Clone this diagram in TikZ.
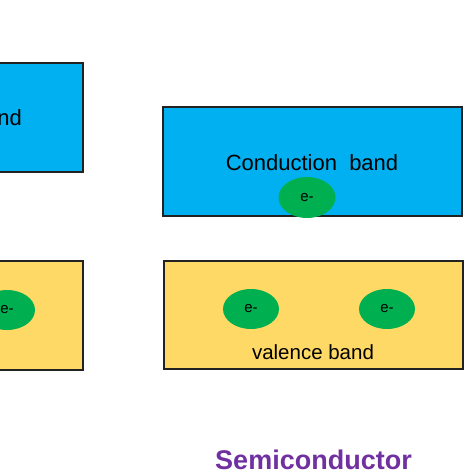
\documentclass[tikz,border=0pt]{standalone}
\usepackage{fontspec}
\setmainfont{Liberation Sans}
\usetikzlibrary{shapes.geometric}
\definecolor{cband}{HTML}{00B0F0}
\definecolor{vband}{HTML}{FFD966}
\definecolor{elec}{HTML}{00B050}
\definecolor{edgec}{HTML}{222222}
\definecolor{purp}{HTML}{7030A0}
\begin{document}
\begin{tikzpicture}[x=1pt,y=-1pt,
  bandbox/.style={draw=edgec,line width=1.3pt},
  electron/.style={ellipse,fill=elec,minimum width=56pt,minimum height=40pt,inner sep=0pt,font=\fontsize{15}{17}\selectfont},
  bandlabel/.style={font=\fontsize{22}{26}\selectfont,inner sep=0pt}]
\useasboundingbox (0,0) rectangle (474,474);
\begin{scope}
\clip (0,0) rectangle (474,474);
% left (cut off) boxes
\path[bandbox,fill=cband] (-120,63) rectangle (83,172);
\node[bandlabel,anchor=east] (lc) at (22,118) {Conduction~ band};
\path[bandbox,fill=vband] (-120,261) rectangle (83,370);
\node[electron] (le) at (7,310) {e-};
% right boxes
\path[bandbox,fill=cband] (163,107) rectangle (462,216);
\node[bandlabel] (rc) at (312,163) {Conduction~ band};
\node[electron,minimum width=57pt,minimum height=41pt] (ce) at (307,197.5) {e-};
\path[bandbox,fill=vband] (164,261) rectangle (463,369);
\node[electron] (ve1) at (251,309) {e-};
\node[electron] (ve2) at (387,309) {e-};
\node[font=\fontsize{20.5}{24}\selectfont,inner sep=0pt] (vl) at (313,352) {valence band};
\node[font=\fontsize{27}{30}\selectfont\bfseries,text=purp,inner sep=0pt,anchor=base] (sc) at (313.5,469) {Semiconductor};
\end{scope}
\end{tikzpicture}
\end{document}
